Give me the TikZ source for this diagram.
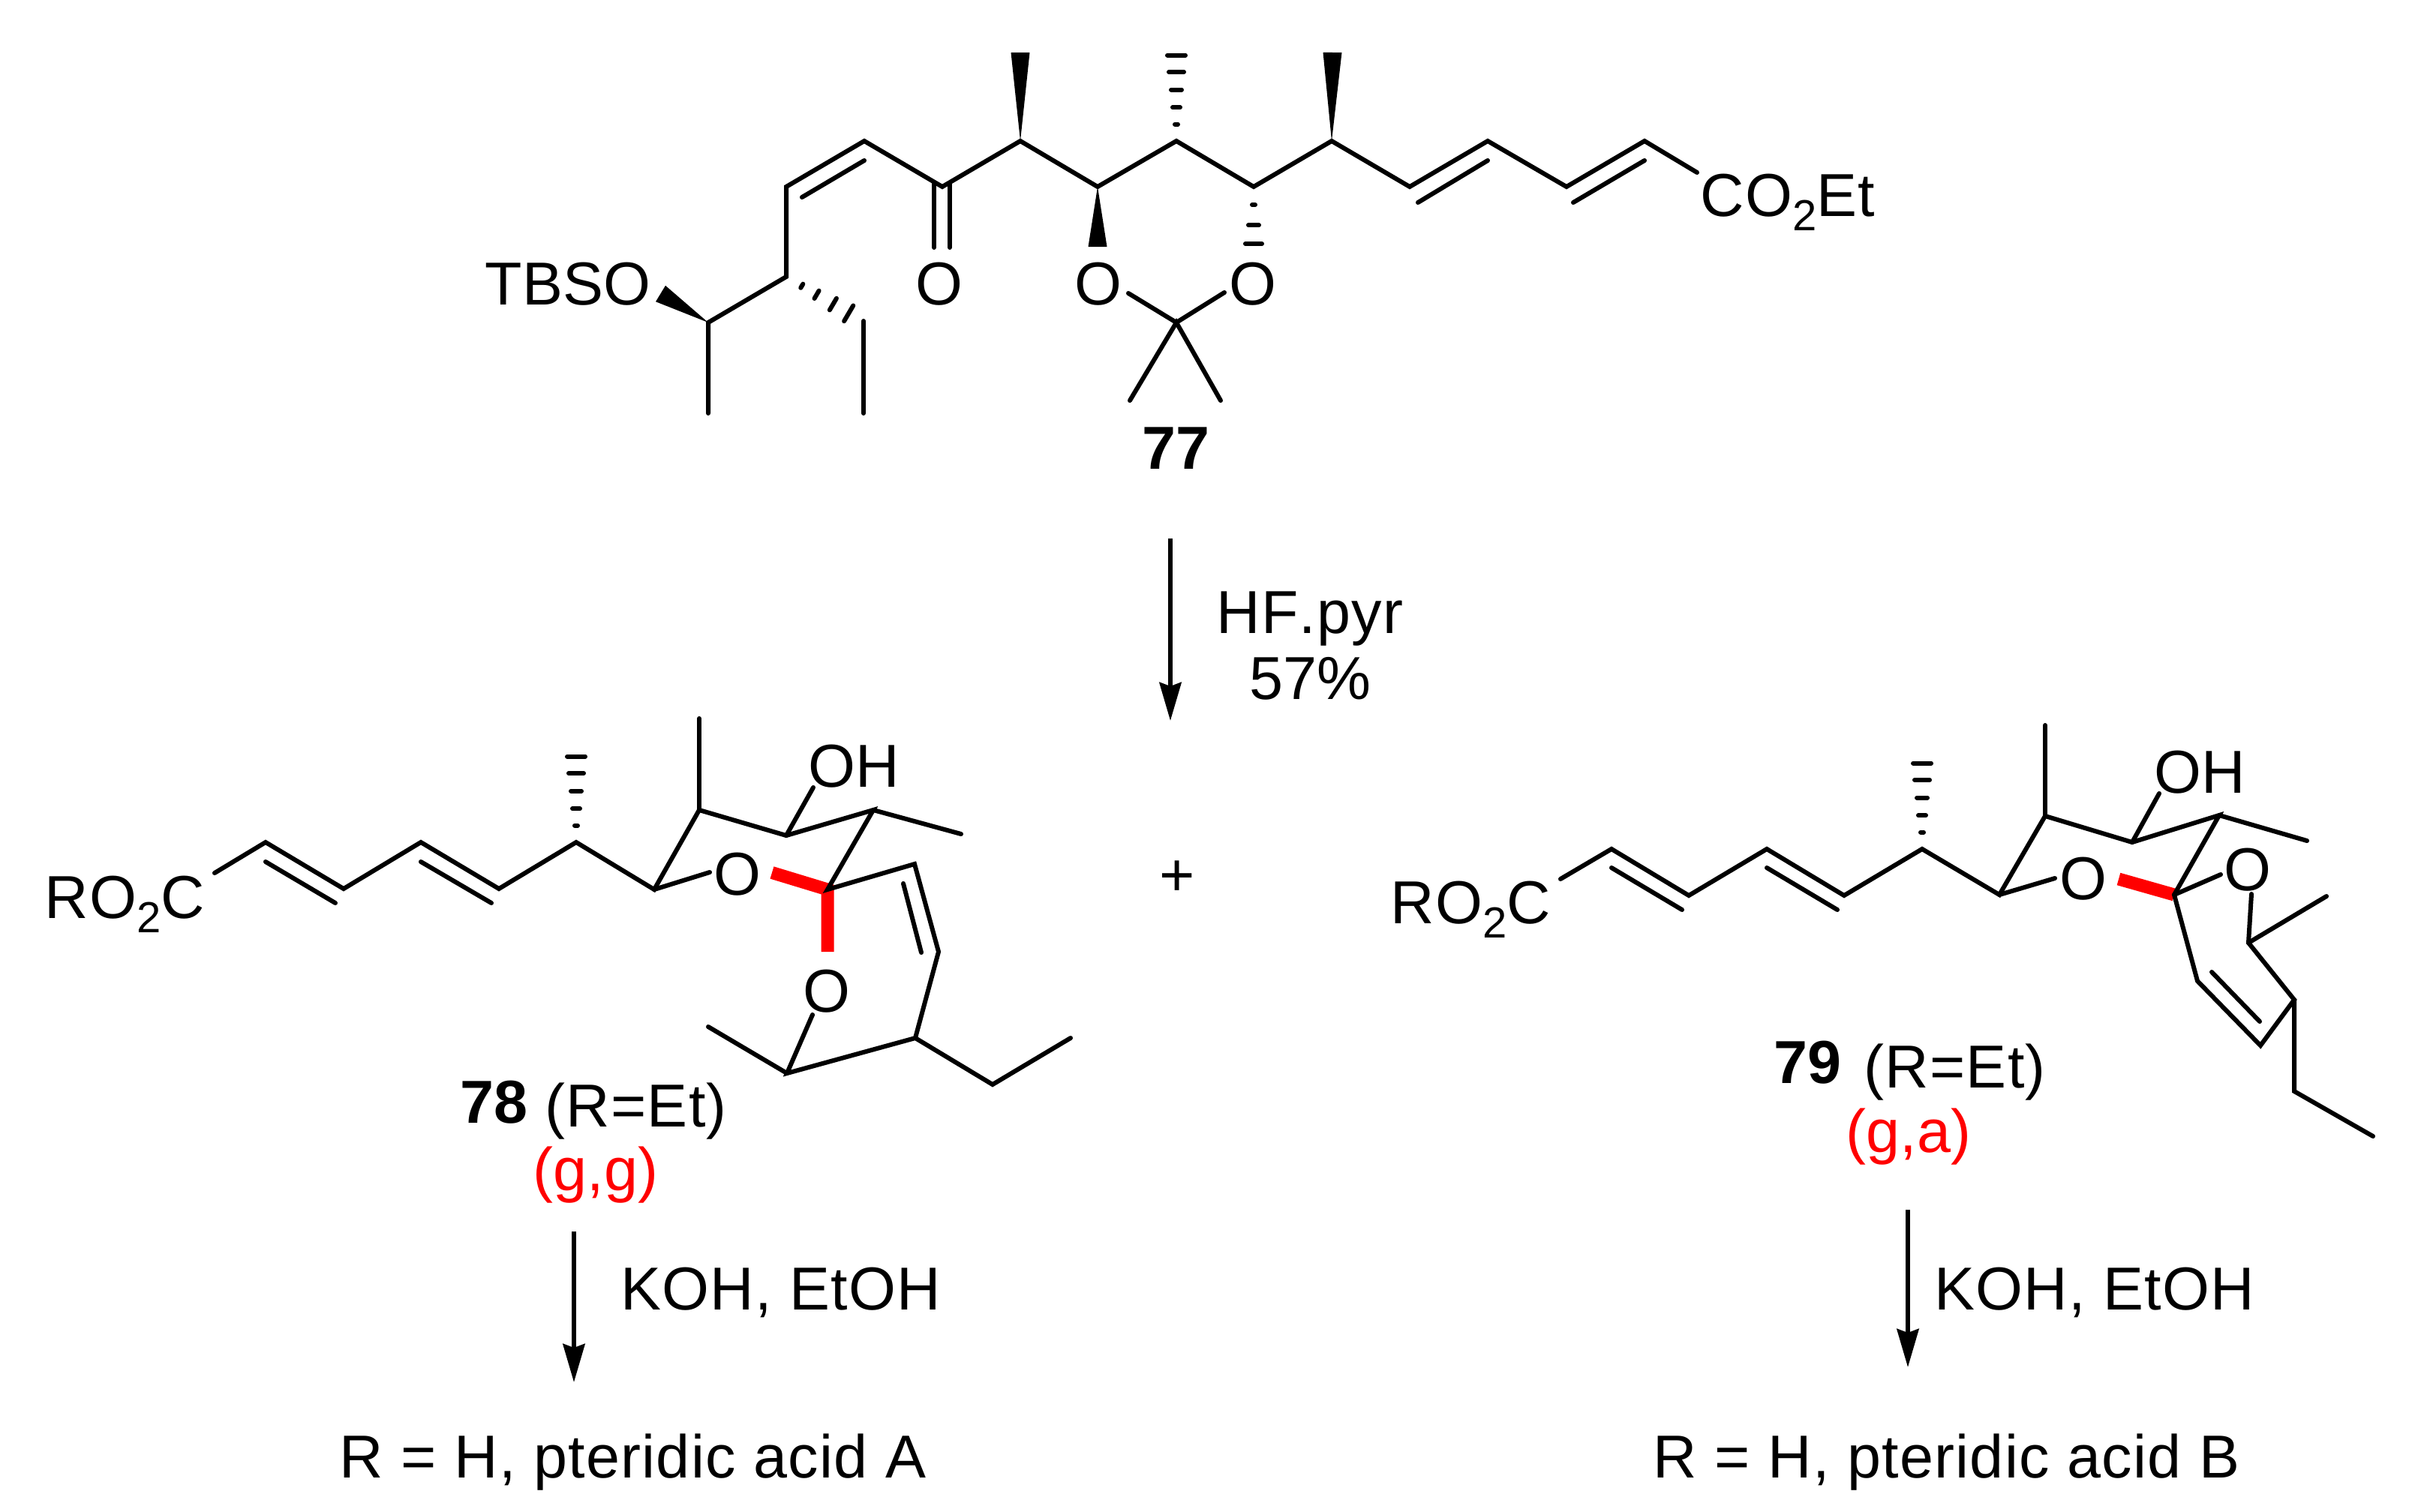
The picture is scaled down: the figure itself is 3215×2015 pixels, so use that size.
\documentclass[tikz,border=0pt]{standalone}
\usepackage{fontspec}
\setmainfont[Kerning=Off]{Liberation Sans}
\usetikzlibrary{arrows.meta,calc}

\newcommand{\chemfont}{\fontsize{23}{26}\selectfont}
\newcommand{\subtwo}{\raisebox{-0.19cm}{\fontsize{16.5}{18}\selectfont 2}}
\newcommand{\fivedash}{.19/.02,.38/.05,.58/.07,.78/.10,.97/.12}
\newcommand{\wedgebond}[2]{\fill ($(#2)!.125cm!90:(#1)$) -- (#1) -- ($(#2)!.125cm!-90:(#1)$) -- cycle;}
\newcommand{\hashbond}[3]{\foreach \t/\w in #3 {\draw[hashdash] ($(#1)!\t!(#2)!\w cm!90:(#2)$) -- ($(#1)!\t!(#2)!\w cm!-90:(#2)$);}}

\tikzset{
  bond/.style={line width=.06cm,line cap=round},
  hashdash/.style={line width=.06cm,line cap=round},
  redbond/.style={line width=.17cm,red},
  rxn/.style={line width=.06cm,-{Stealth[length=.51cm,width=.29cm,inset=.05cm]}},
  txt/.style={font=\chemfont,inner sep=0pt,anchor=base west},
  wide/.style={txt,font=\chemfont\addfontfeature{LetterSpace=1.5}},
  atomO/.style={font=\chemfont,inner sep=0pt,anchor=base},
}

\begin{document}
\begin{tikzpicture}[x=.01cm,y=-.01cm]
  \useasboundingbox (0,0) rectangle (3215,2015);

  % 77
  \foreach \n/\x/\y in {a1/944/430,a1m/944/551,a1w/880.5/391.5,a2/1048/369,a2h/1152/430,
    ae1/1151/428,ae2/1151/551,a3/1048/249,a3i/1069/263,a4/1152/188,a4i/1152/214,a5/1256/249,
    a5l/1245/244,a5r/1266/244,ol/1245/330,or/1266/330,a6/1360/188,a6w/1360/70,a7/1463/249,
    a7w/1463/329,a8/1568/188,a8h/1568/70,a9/1671/249,a9h/1671/329,a10/1775/188,a10w/1776/70,
    a11/1879/249,a11i/1890/270,a12/1983/188,a12i/1983/214,a13/2088/249,a13i/2097/270,
    a14/2192/188,a14i/2192/214,a15/2262/230,ac/1568/430,aol/1504/391,aor/1632/390,
    am1/1506/534,am2/1627/534}
    \coordinate (\n) at (\x,\y);

  \node[txt] (tbso) at (646,406) {TBSO};
  \node[atomO] (oa1) at (1252,406) {O};
  \node[atomO] (oa2) at (1464,406) {O};
  \node[atomO] (oa3) at (1670,406) {O};
  \node[wide] (coet) at (2266,288) {CO\subtwo Et};
  \node[txt] (n77) at (1522,625) {\textbf{77}};

  \draw[bond] (a1m) -- (a1) -- (a2) -- (a3) -- (a4) -- (a5) -- (a6) -- (a7) -- (a8) -- (a9)
    -- (a10) -- (a11) -- (a12) -- (a13) -- (a14) -- (a15);
  \draw[bond] (a3i) -- (a4i);
  \draw[bond] (a11i) -- (a12i);
  \draw[bond] (a13i) -- (a14i);
  \draw[bond] (a5l) -- (ol);
  \draw[bond] (a5r) -- (or);
  \draw[bond] (ae1) -- (ae2);
  \draw[bond] (aol) -- (ac) -- (aor);
  \draw[bond] (am1) -- (ac) -- (am2);
  \wedgebond{a1}{a1w}
  \wedgebond{a6}{a6w}
  \wedgebond{a7}{a7w}
  \wedgebond{a10}{a10w}
  \hashbond{a2}{a2h}{{.2/.03,.39/.06,.6/.09,.8/.12}}
  \hashbond{a8}{a8h}{\fivedash}
  \hashbond{a9}{a9h}{{.3/.02,.64/.07,.95/.11}}

  % 78
  \foreach \n/\x/\y in {b1/286/1164,b2/354/1123,b2i/354/1149,b3/458/1185,b3i/447/1204,
    b4/561/1123,b4i/561/1149,b5/665/1185,b5i/655/1204,b6/768/1123,b6h/768/1005,b7/872/1186,
    b8/932/1080,b8m/932/958,b9/1048/1114,b9o/1084/1050,b10/1164/1080,b10m/1281/1112,
    bs/1103/1186,bo1/946/1163,br1/1029/1163.5,br2/1103/1269,b11/1219/1152,b11i/1204/1178,
    b12/1251/1269,b12i/1228/1270,b13/1220/1384,b14/1049/1431,bo2/1083/1353,b14m/944/1369,
    b15/1323/1446,b16/1427/1384}
    \coordinate (\n) at (\x,\y);

  \node[wide] (roa) at (59,1224) {RO\subtwo C};
  \node[txt] (oha) at (1077,1049) {OH};
  \node[atomO] (ob1) at (983,1193) {O};
  \node[atomO] (ob2) at (1102,1349) {O};
  \node[txt] (n78) at (613,1497) {\textbf{78}};
  \node[wide] (ra) at (726,1502) {(R=Et)};
  \node[atomO,red] (gg) at (794,1587) {(g,g)};

  \draw[redbond] (br1) -- (bs) -- (br2);
  \draw[bond] (b1) -- (b2) -- (b3) -- (b4) -- (b5) -- (b6) -- (b7) -- (b8) -- (b9) -- (b10)
    -- (bs) -- (b11) -- (b12) -- (b13) -- (b14) -- (bo2);
  \draw[bond] (b2i) -- (b3i);
  \draw[bond] (b4i) -- (b5i);
  \draw[bond] (b11i) -- (b12i);
  \draw[bond] (b7) -- (bo1);
  \draw[bond] (b8) -- (b8m);
  \draw[bond] (b9) -- (b9o);
  \draw[bond] (b10) -- (b10m);
  \draw[bond] (b14) -- (b14m);
  \draw[bond] (b13) -- (b15) -- (b16);
  \hashbond{b6}{b6h}{\fivedash}

  % 79
  \foreach \n/\x/\y in {c1/2080/1172,c2/2148/1132,c2i/2148/1157,c3/2251/1194,c3i/2242/1213,
    c4/2355/1132,c4i/2355/1157,c5/2458/1194,c5i/2449/1213,c6/2562/1132,c6h/2562/1014,
    c7/2665/1193,c8/2726/1088,c8m/2726/967,c9/2842/1123,c9o/2878/1058,c10/2958/1087,
    c10m/3075/1121,cs/2898/1193,co1/2739/1171,cr1/2824/1172,co2/2960/1166,c11/2929/1308,
    c11i/2948/1296,c12/3013/1394,c12i/3012/1362,c13/3058/1333,c14/2997/1257,co3/3001/1192,
    c14m/3101/1195,c15/3058/1455,c16/3163/1515}
    \coordinate (\n) at (\x,\y);

  \node[wide] (rob) at (1853,1231) {RO\subtwo C};
  \node[txt] (ohb) at (2871,1057) {OH};
  \node[atomO] (oc1) at (2777,1199) {O};
  \node[atomO] (oc2) at (2996,1187) {O};
  \node[txt] (n79) at (2364,1444) {\textbf{79}};
  \node[wide] (rb) at (2484,1450) {(R=Et)};
  \node[atomO,red] (ga) at (2544,1536) {(g,a)};

  \draw[redbond] (cr1) -- (cs);
  \draw[bond] (c1) -- (c2) -- (c3) -- (c4) -- (c5) -- (c6) -- (c7) -- (c8) -- (c9) -- (c10)
    -- (cs) -- (c11) -- (c12) -- (c13) -- (c14) -- (co3);
  \draw[bond] (c2i) -- (c3i);
  \draw[bond] (c4i) -- (c5i);
  \draw[bond] (c11i) -- (c12i);
  \draw[bond] (c7) -- (co1);
  \draw[bond] (c8) -- (c8m);
  \draw[bond] (c9) -- (c9o);
  \draw[bond] (c10) -- (c10m);
  \draw[bond] (cs) -- (co2);
  \draw[bond] (c14) -- (c14m);
  \draw[bond] (c13) -- (c15) -- (c16);
  \hashbond{c6}{c6h}{\fivedash}

  % arrows and conditions
  \coordinate (r1s) at (1560,718);
  \coordinate (r1e) at (1560,961);
  \coordinate (r2s) at (765,1642);
  \coordinate (r2e) at (765,1843);
  \coordinate (r3s) at (2543,1613);
  \coordinate (r3e) at (2543,1823);
  \draw[rxn] (r1s) -- (r1e);
  \draw[rxn] (r2s) -- (r2e);
  \draw[rxn] (r3s) -- (r3e);

  \node[wide] (hf) at (1621,844) {HF.pyr};
  \node[txt] (yld) at (1665,932) {57\%};
  \node[atomO] (plus) at (1569,1194) {+};
  \node[wide] (koha) at (827,1746) {KOH, EtOH};
  \node[wide] (kohb) at (2578,1746) {KOH, EtOH};
  \node[wide] (acida) at (452,1970) {R = H, pteridic acid A};
  \node[wide] (acidb) at (2203,1970) {R = H, pteridic acid B};
\end{tikzpicture}
\end{document}
